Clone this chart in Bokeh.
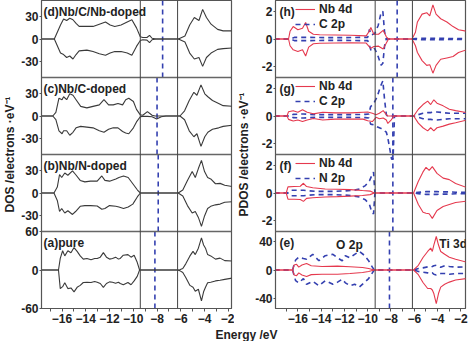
from bokeh.plotting import figure
from bokeh.models import (Range1d, FixedTicker, CustomJSTickFormatter, Span, Label,
                          Legend, LegendItem)
from bokeh.layouts import column, row
from bokeh.embed import file_html
from bokeh.resources import INLINE

FONT = "Liberation Sans"

# ------------------------------------------------------------------ data
E_MIN = -18.0

# left column: total DOS (spin up / spin down)
A_VB_E = [-16.3, -16.15, -15.95, -15.77, -15.51, -15.25, -14.99, -14.73, -14.47, -14.21, -13.9, -13.56,
          -13.25, -13.04, -12.78, -12.52, -12.26, -12.0, -11.75, -11.49, -11.25, -11.1, -10.84, -10.45,
          -10.19, -9.93, -9.67, -9.47]
A_VB_UP = [0, 18, 30, 22, 30, 27, 35, 29, 22, 17, 18, 16, 18, 18, 20, 27, 20, 17, 18, 20, 17, 18, 23, 24,
           20, 23, 12, 0]
A_VB_DN = [0, -29, -26, -20, -29, -28, -34, -27, -24, -19.5, -19, -19.5, -18, -19, -21, -27, -21, -18.5,
           -19, -20.5, -19, -21, -23, -19.5, -23, -17, -10, 0]
A_CB_E = [-6.27, -6.09, -5.83, -5.57, -5.23, -4.97, -4.78, -4.52, -4.26, -4.08, -3.92, -3.74, -3.48, -3.08,
          -2.69, -2.3, -1.5]
A_CB_UP = [0, 0.5, 2.4, 10, 22, 29, 24, 34, 50, 39, 34, 24, 22, 17, 18.5, 14.6, 13.7]
A_CB_DN = [0, -1, -4, -12, -24, -27, -33, -30, -48, -34, -27, -20, -19, -17, -16, -14.6, -12]

B_VB_E = [-16.68, -16.4, -16.21, -16.03, -15.77, -15.51, -15.12, -14.86, -14.47, -14.08, -13.6, -13.04,
          -12.65, -12.39, -12.0, -11.47, -11.21, -10.82, -10.43, -10.04, -9.65, -9.4]
B_VB_UP = [0, 8, 25, 21, 27, 24, 30, 25, 17, 15, 16, 16, 23, 17, 16, 19, 21, 23, 21, 12.5, 4, 0]
B_VB_DN = [0, -10, -25, -21, -27, -24, -29, -25, -18, -17, -17, -17.5, -22, -21, -17, -18, -19, -21, -19,
           -15, -5, 0]
B_CB_E = [-6.22, -5.83, -5.44, -5.04, -4.78, -4.52, -4.26, -4.0, -3.74, -3.48, -3.08, -2.69, -2.3, -1.5]
B_CB_UP = [0, 4, 17, 29, 21, 33, 44, 29, 21, 19, 12.5, 13, 10.4, 8.3]
B_CB_DN = [0, -4, -17, -27, -25, -33, -45, -31, -21, -18, -16, -15, -12.5, -11.7]

C_VB_E = [-16.78, -16.52, -16.26, -16.0, -15.87, -15.61, -15.35, -15.08, -14.82, -14.43, -13.91, -13.39,
          -12.86, -12.47, -12.08, -11.69, -11.29, -10.9, -10.64, -10.38, -9.99, -9.73, -9.41]
C_VB_UP = [0, 5, 24, 22, 26, 22, 30, 28, 22, 13, 11, 13, 15, 22, 15, 15, 17, 15, 22, 24, 19.5, 9, 1.5]
C_VB_DN = [0, -5, -20, -24, -20, -20, -26, -22, -16, -14, -15, -16, -20, -22, -18, -16, -16, -21, -23, -24,
           -16, -8, -1]
C_GAP_E = [-9.2, -8.81, -8.42, -8.16, -8.03, -7.64, -7.25]
C_GAP_UP = [1, 6, 1, 0, 0, 0, 0]
C_GAP_DN = [-0.5, -0.5, -1, -3, -4, -1, 0]
C_CB_E = [-6.07, -5.68, -5.29, -4.9, -4.64, -4.3, -3.98, -3.72, -3.33, -2.81, -2.43, -1.5]
C_CB_UP = [0, 7, 21, 32, 28, 42, 30, 26, 21, 17, 14, 13]
C_CB_DN = [0, -5, -20, -28, -24, -41, -28, -22, -18, -16, -14, -12]

D_VB_E = [-16.65, -16.13, -15.87, -15.61, -15.35, -15.08, -14.82, -14.56, -13.91, -13.39, -12.86, -12.34,
          -11.95, -11.56, -11.03, -10.51, -10.12, -9.73, -9.41]
D_VB_UP = [0, 19, 27, 25, 28, 26, 21, 17, 17, 17, 20, 23, 19, 17, 19, 23, 26, 15, 3]
D_VB_DN = [0, -19, -21, -25, -23, -27, -21, -16, -15, -17, -20, -22, -19, -17, -17, -19, -22, -10, -2]
D_GAP_E = [-9.2, -8.85, -8.63, -8.42, -8.1]
D_GAP_UP = [2, 2, 5, 1, 0]
D_GAP_DN = [-1, -1.5, -5, -1, 0]
D_CB_E = [-6.2, -5.65, -5.25, -4.86, -4.47, -4.16, -3.84, -3.45, -2.9, -2.43, -1.5]
D_CB_UP = [0, 4, 19, 29, 25, 40, 29, 20, 13, 11, 11]
D_CB_DN = [0, -4, -19, -27, -25, -37, -25, -19, -14, -13, -12]

# right column: partial DOS
E_TI_VB_E = [-16.45, -16.32, -16.11, -15.92, -15.65, -15.25, -14.85, -13.92, -12.59, -11.52, -10.45, -9.92, -9.44]
E_TI_VB_UP = [0, 7, 8, 4, 7, 9, 6, 5, 5.5, 4.5, 3.5, 2, 0]
E_TI_VB_DN = [0, -7, -8, -4, -7, -9, -6.5, -6, -6, -5, -3.5, -2, 0]
E_O_VB_E = [-16.45, -16.32, -16.19, -15.92, -15.52, -15.25, -14.72, -14.19, -13.65, -12.99, -12.59, -12.19,
            -11.92, -11.52, -11.12, -10.72, -10.32, -9.92, -9.6, -9.44]
E_O_VB_UP = [0, 8, 14, 18, 16, 15, 22, 13, 20, 22, 17, 13, 20, 17, 22, 26, 21, 13, 4, 0]
E_O_VB_DN = [0, -8, -15, -18, -12, -20, -16, -22, -15, -20, -17, -13, -18, -22, -20, -24, -18, -12, -4, 0]
E_CB_E = [-6.06, -5.65, -5.25, -4.85, -4.59, -4.45, -4.32, -4.11, -3.92, -3.73, -3.39, -2.99, -2.45, -1.5]
E_TI_CB_UP = [0, 6.6, 17.5, 26, 30.7, 26, 35, 47, 35, 26, 22, 18, 15, 11]
E_TI_CB_DN = [0, -6.6, -17.5, -26, -26, -28, -33, -47, -33, -24, -20, -17, -14, -12]
E_O_CB_UP = [0, 2, 3, 4.4, 4, 5, 6, 6.6, 5, 4, 6, 5, 4, 4.4]
E_O_CB_DN = [0, -2, -3, -4, -5, -4, -6, -7, -6, -5, -5, -6, -5, -5]

F_NB_VB_E = [-17.0, -16.85, -16.32, -15.79, -15.52, -15.25, -14.72, -13.65, -12.59, -11.52, -10.45, -9.79, -9.44]
F_NB_VB_UP = [0, 0.45, 0.48, 0.5, 0.72, 0.48, 0.39, 0.3, 0.28, 0.25, 0.18, 0.14, 0]
F_NB_VB_DN = [0, -0.45, -0.46, -0.48, -0.62, -0.4, -0.35, -0.3, -0.27, -0.23, -0.18, -0.12, 0]
F_N_VB_E = [-16.9, -16.6, -15.5, -14.5, -13.0, -12.0, -11.2, -10.7, -10.2, -9.85, -9.65, -9.5, -9.38]
F_N_VB_UP = [0, 0.2, 0.2, 0.12, 0.12, 0.15, 0.2, 0.3, 0.55, 0.9, 1.3, 1.55, 0]
F_N_VB_DN = [0, -0.2, -0.2, -0.12, -0.12, -0.15, -0.22, -0.3, -0.5, -0.85, -1.4, -1.55, 0]
F_CB_E = [-6.06, -5.65, -5.25, -4.99, -4.72, -4.45, -4.05, -3.52, -2.99, -2.45, -1.5]
F_NB_CB_UP = [0, 0.87, 1.56, 1.9, 1.68, 1.95, 1.45, 1.1, 0.99, 0.71, 0.41]
F_NB_CB_DN = [0, -0.85, -1.43, -1.5, -1.54, -1.88, -1.3, -1.0, -0.85, -0.7, -0.6]
F_N_CB_UP = [0, 0.05, 0.08, 0.1, 0.1, 0.1, 0.1, 0.08, 0.08, 0.06, 0.05]
F_N_CB_DN = [0, -0.05, -0.08, -0.1, -0.1, -0.1, -0.1, -0.08, -0.08, -0.06, -0.05]

G_NB_VB_E = [-16.93, -16.8, -16.4, -16.0, -15.6, -15.2, -14.67, -13.87, -12.8, -11.47, -10.4, -10.0, -9.6,
             -9.28, -9.0, -8.67, -8.4, -8.27, -8.0, -7.73]
G_NB_VB_UP = [0, 0.32, 0.39, 0.28, 0.46, 0.28, 0.16, 0.28, 0.23, 0.23, 0.28, 0.3, 0.2, 0.1, 0.2, 0.4, 0.1,
              0, 0, 0]
G_NB_VB_DN = [0, -0.25, -0.37, -0.3, -0.41, -0.3, -0.18, -0.3, -0.23, -0.23, -0.23, -0.35, -0.41, -0.1,
              -0.2, -0.15, -0.3, -0.55, -0.3, 0]
G_C_VB_E = [-16.7, -16.4, -15.5, -14.5, -13.0, -11.5, -10.2, -9.9, -9.75, -9.5, -9.2, -8.9, -8.7, -8.55,
            -8.4, -8.3, -8.15, -7.95, -7.82, -7.7]
G_C_VB_UP = [0, 0.12, 0.15, 0.1, 0.1, 0.1, 0.12, 0.15, 0.7, 0.9, 1.4, 2.2, 2.6, 1.2, 0.1, 0, 0, 0, 0, 0]
G_C_VB_DN = [0, -0.12, -0.15, -0.1, -0.1, -0.1, -0.12, -0.15, -0.6, -0.65, -0.8, -0.9, -1.0, -1.1, -1.2,
             -1.5, -2.2, -3.2, -3.2, 0]
G_CB_E = [-6.05, -5.65, -5.25, -4.85, -4.59, -4.32, -4.05, -3.52, -2.99, -2.45, -1.5]
G_NB_CB_UP = [0, 0.5, 0.85, 1.1, 0.85, 1.2, 0.95, 0.75, 0.5, 0.4, 0.25]
G_NB_CB_DN = [0, -0.53, -0.87, -1.1, -0.87, -1.1, -0.87, -0.75, -0.6, -0.5, -0.3]
G_C_CB_UP = [0, 0.1, 0.2, 0.25, 0.25, 0.3, 0.3, 0.25, 0.2, 0.2, 0.2]
G_C_CB_DN = [0, -0.1, -0.2, -0.25, -0.25, -0.3, -0.3, -0.25, -0.2, -0.2, -0.2]

H_NB_VB_E = [-16.8, -16.67, -16.4, -16.0, -15.6, -15.33, -15.07, -14.67, -14.13, -12.8, -11.47, -10.13,
             -9.87, -9.73, -9.47, -9.07, -8.67, -8.4, -8.21]
H_NB_VB_UP = [0, 0.57, 0.92, 0.69, 0.8, 1.22, 0.57, 0.35, 0.32, 0.3, 0.28, 0.23, 0.57, 0.85, 0.35, 0.35,
              0.64, 0.16, 0]
H_NB_VB_DN = [0, -0.5, -0.8, -0.92, -0.8, -1.26, -0.6, -0.35, -0.32, -0.3, -0.28, -0.3, -0.57, -0.69,
              -0.55, -0.53, -0.74, -0.3, 0]
H_C_VB_E = [-16.6, -16.3, -15.0, -13.5, -12.0, -10.5, -10.0, -9.85, -9.7, -9.4, -9.1, -8.85, -8.7, -8.55, -8.4]
H_C_VB_UP = [0, 0.12, 0.12, 0.1, 0.1, 0.12, 0.12, 0.7, 0.3, 0.4, 1.0, 1.95, 2.05, 0.5, 0]
H_C_VB_DN = [0, -0.12, -0.12, -0.1, -0.1, -0.12, -0.12, -0.5, -0.9, -0.7, -1.3, -1.95, -1.8, -0.5, 0]
H_CB_E = [-6.19, -5.9, -5.73, -5.33, -4.93, -4.67, -4.4, -4.13, -3.73, -3.2, -2.67, -2.2, -1.5]
H_NB_CB_UP = [0, 0.5, 1.26, 1.84, 1.95, 1.72, 2.53, 1.84, 1.5, 1.26, 0.92, 0.69, 0.57]
H_NB_CB_DN = [0, -0.5, -1.0, -1.6, -1.95, -1.9, -2.53, -1.95, -1.5, -1.4, -1.3, -1.0, -0.8]
H_C_CB_UP = [0, 0.03, 0.04, 0.05, 0.05, 0.05, 0.05, 0.05, 0.05, 0.04, 0.04, 0.03, 0.03]
H_C_CB_DN = [0, -0.03, -0.04, -0.05, -0.05, -0.05, -0.05, -0.05, -0.05, -0.04, -0.04, -0.03, -0.03]

# band edges (solid lines) and Fermi levels (dashed blue lines)
GAP_LEFT = [-9.41, -6.27]
GAP_RIGHT = [-9.36, -6.16]
EF_LEFT = {"a": -8.18, "b": -7.9, "c": -8.0, "d": -7.53}
EF_RIGHT = {"e": -8.13, "f": -7.84, "g": -7.84, "h": -7.47}

LEFT_TITLES = {"a": "(a)pure", "b": "(b)Nb/N-doped", "c": "(c)Nb/C-doped", "d": "(d)Nb/C/Nb-doped"}
RIGHT_TITLES = {"e": "(e)", "f": "(f)", "g": "(g)", "h": "(h)"}
LEFT_LIMITS = {"a": (-60, 60), "b": (-52, 52), "c": (-52, 52), "d": (-52, 52)}
RIGHT_LIMITS = {"e": (-54, 54), "f": (-2.85, 2.85), "g": (-2.85, 2.85), "h": (-2.85, 2.85)}
LEFT_TICKS = {"a": [-60, 0, 60], "b": [-30, 0, 30], "c": [-30, 0, 30], "d": [-30, 0, 30]}
RIGHT_TICKS = {"e": [-40, 0, 40], "f": [-2, 0, 2], "g": [-2, 0, 2], "h": [-2, 0, 2]}
X_TICKS = [-16, -14, -12, -10, -8, -6, -4, -2]
X_MINOR = [-17, -15, -13, -11, -9, -7, -5, -3]

# ------------------------------------------------------------------ style
FW, FH = 190, 308
DARK = "#3a3a3a"
RED = "#e5394e"
BLUE = "#3440b0"


def curve(*parts):
    xs, ys = [E_MIN], [0.0]
    for e, v in parts:
        xs += list(e)
        ys += list(v)
    return xs, ys


def base_fig(xr, min_left, min_right, ylabel, slots):
    n = len(slots)
    p = figure(frame_width=FW, frame_height=FH, x_range=Range1d(*xr), y_range=Range1d(0, n),
               output_backend="svg", toolbar_location=None,
               min_border_left=min_left, min_border_right=min_right, min_border_top=0,
               min_border_bottom=19, background_fill_color="white", border_fill_color="white",
               outline_line_color="#555555", outline_line_width=1.2)
    p.xgrid.visible = False
    p.ygrid.visible = False
    extra = {}
    pos, lab = [], []
    for k, (name, lim, ticks) in enumerate(slots):
        lo, hi = lim
        h = hi - lo
        extra[name] = Range1d(lo - k * h, hi + (n - 1 - k) * h)
        for t in ticks:
            pos.append(k + (t - lo) / h)
            lab.append(str(t))
    p.extra_y_ranges = extra
    # axes
    p.xaxis.ticker = FixedTicker(ticks=X_TICKS, minor_ticks=X_MINOR)
    p.yaxis.ticker = FixedTicker(ticks=pos, minor_ticks=[])
    p.yaxis.formatter = CustomJSTickFormatter(args=dict(pos=pos, lab=lab), code="""
        let best = ""; let d = 1e9;
        for (let i = 0; i < pos.length; i++) {
            const e = Math.abs(pos[i] - tick);
            if (e < d) { d = e; best = lab[i]; }
        }
        return d < 1e-6 ? best : "";
    """)
    for ax in (p.xaxis[0], p.yaxis[0]):
        ax.axis_line_color = "#555555"
        ax.major_label_text_font = FONT
        ax.major_label_text_font_size = "12px"
        ax.major_label_text_font_style = "bold"
        ax.major_label_text_color = "#222222"
        ax.major_tick_line_color = "#555555"
        ax.minor_tick_line_color = "#555555"
        ax.major_tick_in = 0
        ax.minor_tick_in = 0
    p.xaxis.major_tick_out = 3
    p.xaxis.minor_tick_out = 3
    p.xaxis.major_label_standoff = 2
    p.yaxis.major_tick_out = 2
    p.yaxis.major_label_standoff = 1
    p.yaxis.axis_label = ylabel
    p.yaxis.axis_label_standoff = 1
    p.yaxis.axis_label_text_font = FONT
    p.yaxis.axis_label_text_font_size = "12px"
    p.yaxis.axis_label_text_font_style = "bold"
    p.yaxis.axis_label_text_color = "#222222"
    # panel separators
    for k in range(1, n):
        p.add_layout(Span(location=k, dimension="width", line_color="#666666", line_width=1.5))
    return p


def label(p, name, x, y, text, **kw):
    p.add_layout(Label(x=x, y=y, y_range_name=name, text=text, text_font=FONT,
                       text_font_size="12px", text_font_style="bold", text_color="#222222", **kw))


# ------------------------------------------------------------------ left column
left_data = {
    "a": ((A_VB_E, A_VB_UP), (A_CB_E, A_CB_UP)), "a_dn": ((A_VB_E, A_VB_DN), (A_CB_E, A_CB_DN)),
    "b": ((B_VB_E, B_VB_UP), (B_CB_E, B_CB_UP)), "b_dn": ((B_VB_E, B_VB_DN), (B_CB_E, B_CB_DN)),
    "c": ((C_VB_E, C_VB_UP), (C_GAP_E, C_GAP_UP), (C_CB_E, C_CB_UP)),
    "c_dn": ((C_VB_E, C_VB_DN), (C_GAP_E, C_GAP_DN), (C_CB_E, C_CB_DN)),
    "d": ((D_VB_E, D_VB_UP), (D_GAP_E, D_GAP_UP), (D_CB_E, D_CB_UP)),
    "d_dn": ((D_VB_E, D_VB_DN), (D_GAP_E, D_GAP_DN), (D_CB_E, D_CB_DN)),
}
LXR = (-17.73, -1.73)
order_l = ["a", "b", "c", "d"]
pL = base_fig(LXR, 35, 3, "DOS /electrons \u00b7eV\u207b\u00b9",
              [(k, LEFT_LIMITS[k], LEFT_TICKS[k]) for k in order_l])
for g in GAP_LEFT:
    pL.add_layout(Span(location=g, dimension="height", line_color="#444444", line_width=1))
for k in order_l:
    lo, hi = LEFT_LIMITS[k]
    pL.line([EF_LEFT[k], EF_LEFT[k]], [lo, hi], y_range_name=k, line_color=BLUE, line_width=1.6,
            line_dash="5 4")
    for key in (k, k + "_dn"):
        xs, ys = curve(*left_data[key])
        pL.line(xs, ys, y_range_name=k, line_color=DARK, line_width=1.1)
    label(pL, k, LXR[0], hi, LEFT_TITLES[k], x_offset=2, y_offset=-4, text_baseline="top")

# ------------------------------------------------------------------ right column
RXR = (-17.92, -1.6)
order_r = ["e", "f", "g", "h"]
pR = base_fig(RXR, 35, 4, "PDOS /electrons \u00b7eV\u207b\u00b9",
              [(k, RIGHT_LIMITS[k], RIGHT_TICKS[k]) for k in order_r])
for g in GAP_RIGHT:
    pR.add_layout(Span(location=g, dimension="height", line_color="#444444", line_width=1))

right_data = {
    "e": (("Ti 3d", ((E_TI_VB_E, E_TI_VB_UP), (E_CB_E, E_TI_CB_UP)),
           ((E_TI_VB_E, E_TI_VB_DN), (E_CB_E, E_TI_CB_DN))),
          ("O 2p", ((E_O_VB_E, E_O_VB_UP), (E_CB_E, E_O_CB_UP)),
           ((E_O_VB_E, E_O_VB_DN), (E_CB_E, E_O_CB_DN)))),
    "f": (("Nb 4d", ((F_NB_VB_E, F_NB_VB_UP), (F_CB_E, F_NB_CB_UP)),
           ((F_NB_VB_E, F_NB_VB_DN), (F_CB_E, F_NB_CB_DN))),
          ("N 2p", ((F_N_VB_E, F_N_VB_UP), (F_CB_E, F_N_CB_UP)),
           ((F_N_VB_E, F_N_VB_DN), (F_CB_E, F_N_CB_DN)))),
    "g": (("Nb 4d", ((G_NB_VB_E, G_NB_VB_UP), (G_CB_E, G_NB_CB_UP)),
           ((G_NB_VB_E, G_NB_VB_DN), (G_CB_E, G_NB_CB_DN))),
          ("C 2p", ((G_C_VB_E, G_C_VB_UP), (G_CB_E, G_C_CB_UP)),
           ((G_C_VB_E, G_C_VB_DN), (G_CB_E, G_C_CB_DN)))),
    "h": (("Nb 4d", ((H_NB_VB_E, H_NB_VB_UP), (H_CB_E, H_NB_CB_UP)),
           ((H_NB_VB_E, H_NB_VB_DN), (H_CB_E, H_NB_CB_DN))),
          ("C 2p", ((H_C_VB_E, H_C_VB_UP), (H_CB_E, H_C_CB_UP)),
           ((H_C_VB_E, H_C_VB_DN), (H_CB_E, H_C_CB_DN)))),
}

slot_h = FH / 4
for idx, k in enumerate(order_r):
    lo, hi = RIGHT_LIMITS[k]
    pR.line([EF_RIGHT[k], EF_RIGHT[k]], [lo, hi], y_range_name=k, line_color=BLUE, line_width=1.6,
            line_dash="5 4")
    (red_name, red_up, red_dn), (blue_name, blue_up, blue_dn) = right_data[k]
    rb = []
    for parts in (blue_up, blue_dn):
        xs, ys = curve(*parts)
        rb.append(pR.line(xs, ys, y_range_name=k, line_color=BLUE, line_width=1.6, line_dash="5 4"))
    rr = []
    for parts in (red_up, red_dn):
        xs, ys = curve(*parts)
        rr.append(pR.line(xs, ys, y_range_name=k, line_color=RED, line_width=1.1))
    label(pR, k, RXR[0], hi, RIGHT_TITLES[k], x_offset=4, y_offset=-4, text_baseline="top")
    if k == "e":
        label(pR, k, -12.72, 35, blue_name, text_baseline="middle")
        label(pR, k, -3.85, 36, red_name, text_baseline="middle")
    else:
        leg = Legend(items=[LegendItem(label=red_name, renderers=[rr[0]]),
                            LegendItem(label=blue_name, renderers=[rb[0]])],
                     location=(20, (idx + 1) * slot_h - 31),
                     background_fill_alpha=0, border_line_color=None,
                     label_text_font=FONT, label_text_font_size="12px",
                     label_text_font_style="bold", label_text_color="#222222",
                     glyph_width=20, glyph_height=14, label_height=14, label_standoff=4,
                     spacing=1, padding=0, margin=0)
        pR.add_layout(leg)

# ------------------------------------------------------------------ shared x label
pE = figure(width=458, height=14, x_range=Range1d(0, 458), y_range=Range1d(0, 14),
            output_backend="svg", toolbar_location=None, min_border=0,
            x_axis_location=None, y_axis_location=None, outline_line_color=None,
            background_fill_color="white", border_fill_color="white")
pE.xgrid.visible = False
pE.ygrid.visible = False
pE.add_layout(Label(x=246, y=7, text="Energy /eV", text_font=FONT, text_font_size="12px",
                    text_font_style="bold", text_color="#222222", text_align="center",
                    text_baseline="middle"))

layout = column(row(pL, pR), pE)
open("out.html", "w").write(file_html(layout, INLINE))
